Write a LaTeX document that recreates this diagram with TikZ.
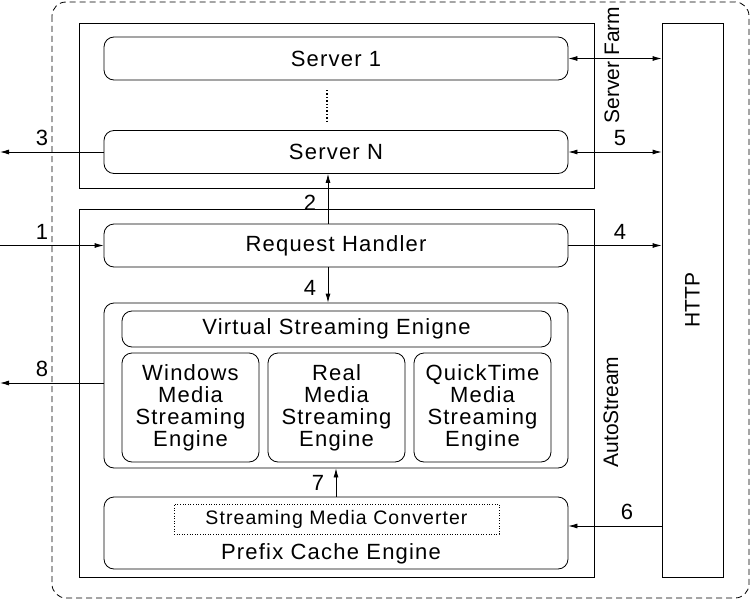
\documentclass[tikz,border=0pt]{standalone}
\usepackage{fontspec}
\setmainfont{Liberation Sans}[LetterSpace=5.5]
\newfontfamily\sidefont{Liberation Sans}
\usetikzlibrary{arrows.meta, positioning}

\begin{document}
\begin{tikzpicture}[x=1pt, y=-1pt, line width=0.8pt,
  font=\fontsize{22}{22}\selectfont,
  unit/.style={draw, rounded corners=10pt, inner sep=0pt},
  frame/.style={draw, inner sep=0pt},
  side/.style={rotate=90, font=\sidefont\fontsize{21}{22}\selectfont},
  flow/.style={-{Latex[length=9pt,width=5pt]}},
  both/.style={{Latex[length=9pt,width=5pt]}-{Latex[length=9pt,width=5pt]}},
  tag/.style={inner sep=1pt}]
  \useasboundingbox (0,0) rectangle (752,602);
  \draw[dash pattern=on 6pt off 4pt, rounded corners=14pt] (52,2) rectangle (749,598);

  % server farm
  \node[frame, minimum width=515, minimum height=165] (farm) at (336.5,105.5) {};
  \node[unit, minimum width=464, minimum height=43] (srv1) at (336,58.5) {Server 1};
  \node[unit, minimum width=464, minimum height=43] (srvN) at (336,152) {Server N};
  \draw[dotted, line width=1.4pt] (327,90) -- (327,122);
  \node[side] (farmtag) at (612,65) {Server Farm};

  % autostream
  \node[frame, minimum width=515, minimum height=368] (auto) at (336.5,393) {};
  \node[unit, minimum width=464, minimum height=43] (rh) at (336,245.5) {Request Handler};
  \node[unit, minimum width=464, minimum height=165] (eng) at (336,385.5) {};
  \node[unit, minimum width=429, minimum height=36] (vse) at (336.5,329) {Virtual Streaming Enigne};
  \node[unit, minimum width=137, minimum height=109, align=center] (win) at (190.5,407.5) {Windows\\Media\\Streaming\\Engine};
  \node[unit, minimum width=137, minimum height=109, align=center] (real) at (336.5,407.5) {Real\\Media\\Streaming\\Engine};
  \node[unit, minimum width=137, minimum height=109, align=center] (qt) at (482.5,407.5) {QuickTime\\Media\\Streaming\\Engine};
  \node[unit, minimum width=464, minimum height=72] (pce) at (336,533) {};
  \node[draw, dotted, line width=0.6pt, inner sep=0pt, minimum width=325, minimum height=30,
        font=\fontsize{19.5}{20}\selectfont] (smc) at (336.5,519) {Streaming Media Converter};
  \node (pcetxt) at (331,554) {Prefix Cache Engine};
  \node[side] (autotag) at (611,412) {AutoStream};

  % http
  \node[frame, minimum width=61, minimum height=554] (http) at (692.5,300) {};
  \node[side] (httptxt) at (http) {HTTP};

  % flows
  \coordinate (out3) at (0,152);
  \coordinate (in1) at (0,245.5);
  \coordinate (out8) at (0,383);
  \coordinate (in6) at ([yshift=7pt]pce.east);
  \draw[flow] (srvN.west) -- (out3);
  \draw[both] (srv1.east) -- (srv1.east -| http.west);
  \draw[both] (srvN.east) -- (srvN.east -| http.west);
  \draw[flow] ([xshift=-8pt]rh.north) -- ([xshift=-8pt]rh.north |- srvN.south);
  \draw[flow] (in1) -- (rh.west);
  \draw[flow] (rh.east) -- (rh.east -| http.west);
  \draw[flow] ([xshift=-8pt]rh.south) -- ([xshift=-8pt]rh.south |- eng.north);
  \draw[flow] (eng.west |- out8) -- (out8);
  \draw[flow] (pce.north) -- (eng.south);
  \draw[flow] (in6 -| http.west) -- (in6);

  % numbers
  \node[tag] (n1) at (42,232) {1};
  \node[tag] (n2) at (310,203) {2};
  \node[tag] (n3) at (42,138) {3};
  \node[tag] (n4a) at (620,232) {4};
  \node[tag] (n4b) at (310,288) {4};
  \node[tag] (n5) at (620,138) {5};
  \node[tag] (n6) at (627,512) {6};
  \node[tag] (n7) at (318,483) {7};
  \node[tag] (n8) at (42,369) {8};
\end{tikzpicture}
\end{document}
